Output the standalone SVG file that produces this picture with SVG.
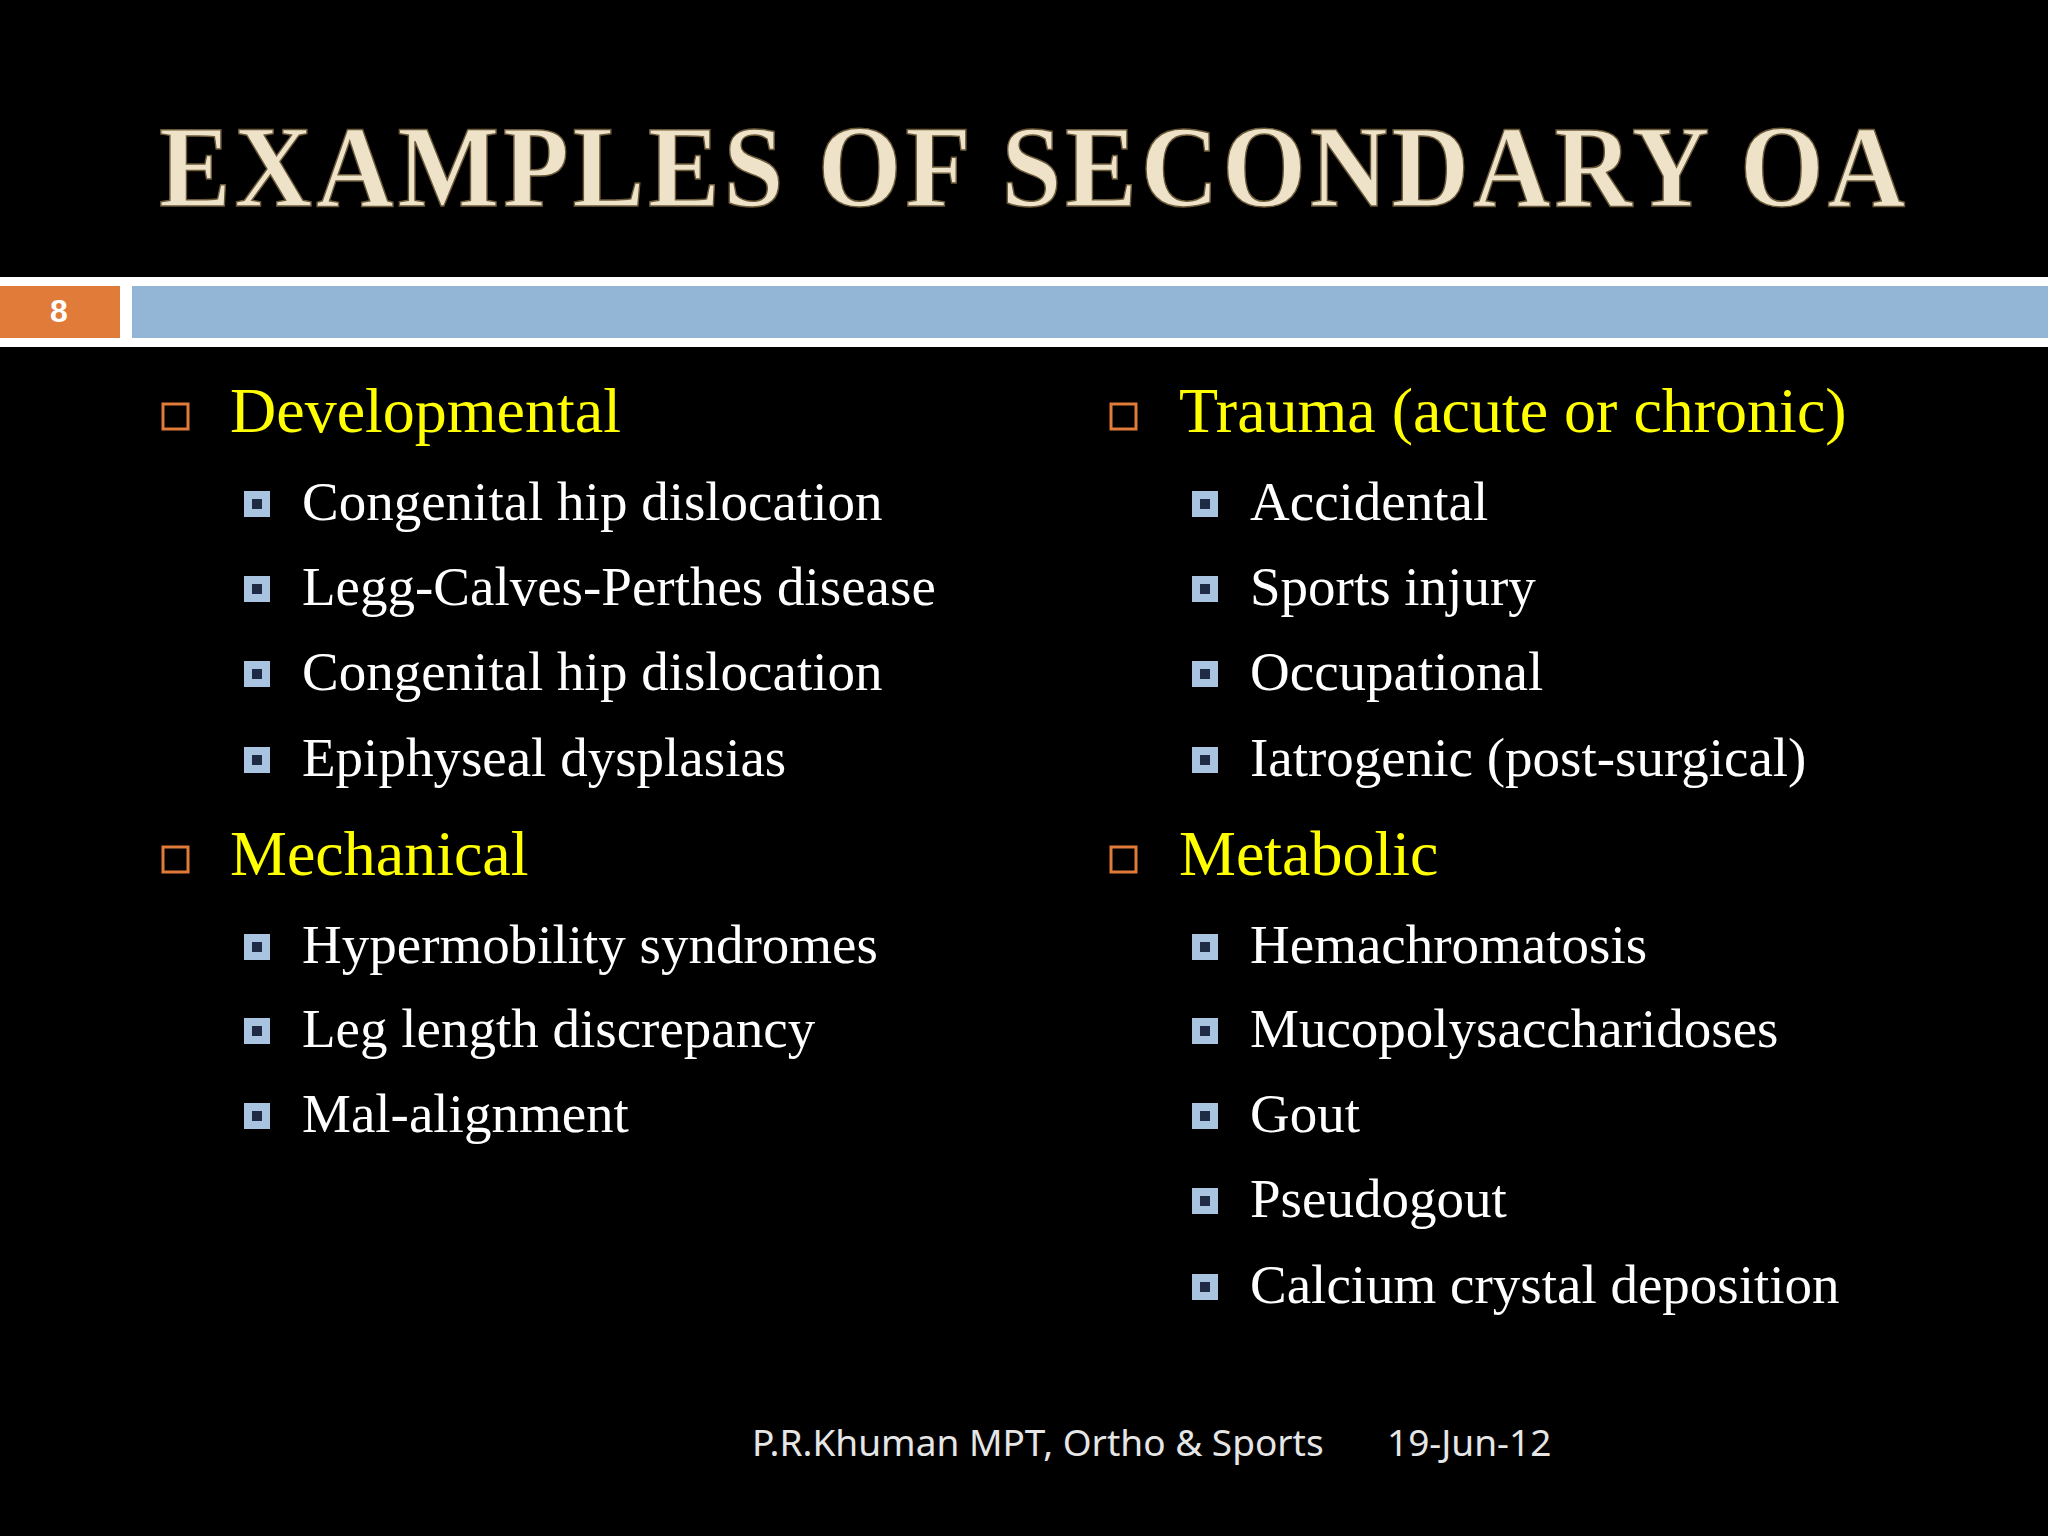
<svg xmlns="http://www.w3.org/2000/svg" width="2048" height="1536" viewBox="0 0 2048 1536">
<style>
.t{font-family:"Liberation Serif",serif;font-weight:bold;font-size:116px;fill:#EEE3C8;stroke:#6b5a3a;stroke-width:1.5;letter-spacing:4px}
.h{font-family:"Liberation Serif",serif;font-size:64px;fill:#FFFF00}
.s{font-family:"Liberation Serif",serif;font-size:55px;fill:#FFFFFF}
.f{font-family:"Noto Sans","DejaVu Sans",sans-serif;font-size:37px;fill:#E6E6E6}
.q{fill:none;stroke:#E07B39;stroke-width:3}
</style>
<defs>
<g id="b"><rect x="0" y="0" width="26" height="26" fill="#A9C4E0"/><rect x="8" y="8" width="10" height="10" fill="#1F2A44"/></g>
</defs>
<rect width="2048" height="1536" fill="#000"/>
<g id="title"><text class="t" x="159" y="206" textLength="1750" lengthAdjust="spacingAndGlyphs">EXAMPLES OF SECONDARY OA</text></g>
<g id="bar">
<rect x="0" y="277" width="2048" height="70" fill="#fff"/>
<rect x="0" y="286" width="120" height="52" fill="#E07B39"/>
<rect x="132" y="286" width="1916" height="52" fill="#93B6D6"/>
<text x="59" y="322" font-family="Liberation Sans,sans-serif" font-weight="bold" font-size="32" fill="#fff" text-anchor="middle">8</text>
</g>
<g id="left">
<rect class="q" x="163" y="404" width="25" height="25"/>
<text class="h" x="230" y="432">Developmental</text>
<use href="#b" x="244" y="491"/><text class="s" x="302" y="520">Congenital hip dislocation</text>
<use href="#b" x="244" y="576"/><text class="s" x="302" y="605">Legg-Calves-Perthes disease</text>
<use href="#b" x="244" y="661"/><text class="s" x="302" y="690">Congenital hip dislocation</text>
<use href="#b" x="244" y="747"/><text class="s" x="302" y="776">Epiphyseal dysplasias</text>
<rect class="q" x="163" y="847" width="25" height="25"/>
<text class="h" x="230" y="875">Mechanical</text>
<use href="#b" x="244" y="934"/><text class="s" x="302" y="963">Hypermobility syndromes</text>
<use href="#b" x="244" y="1018"/><text class="s" x="302" y="1047">Leg length discrepancy</text>
<use href="#b" x="244" y="1103"/><text class="s" x="302" y="1132">Mal-alignment</text>
</g>
<g id="right">
<rect class="q" x="1111" y="404" width="25" height="25"/>
<text class="h" x="1179" y="432">Trauma (acute or chronic)</text>
<use href="#b" x="1192" y="491"/><text class="s" x="1250" y="520">Accidental</text>
<use href="#b" x="1192" y="576"/><text class="s" x="1250" y="605">Sports injury</text>
<use href="#b" x="1192" y="661"/><text class="s" x="1250" y="690">Occupational</text>
<use href="#b" x="1192" y="747"/><text class="s" x="1250" y="776">Iatrogenic (post-surgical)</text>
<rect class="q" x="1111" y="847" width="25" height="25"/>
<text class="h" x="1179" y="875">Metabolic</text>
<use href="#b" x="1192" y="934"/><text class="s" x="1250" y="963">Hemachromatosis</text>
<use href="#b" x="1192" y="1018"/><text class="s" x="1250" y="1047">Mucopolysaccharidoses</text>
<use href="#b" x="1192" y="1103"/><text class="s" x="1250" y="1132">Gout</text>
<use href="#b" x="1192" y="1188"/><text class="s" x="1250" y="1217">Pseudogout</text>
<use href="#b" x="1192" y="1274"/><text class="s" x="1250" y="1303">Calcium crystal deposition</text>
</g>
<g id="footer">
<text class="f" x="752" y="1456">P.R.Khuman MPT, Ortho &amp; Sports</text>
<text class="f" x="1387" y="1456">19-Jun-12</text>
</g>
</svg>
